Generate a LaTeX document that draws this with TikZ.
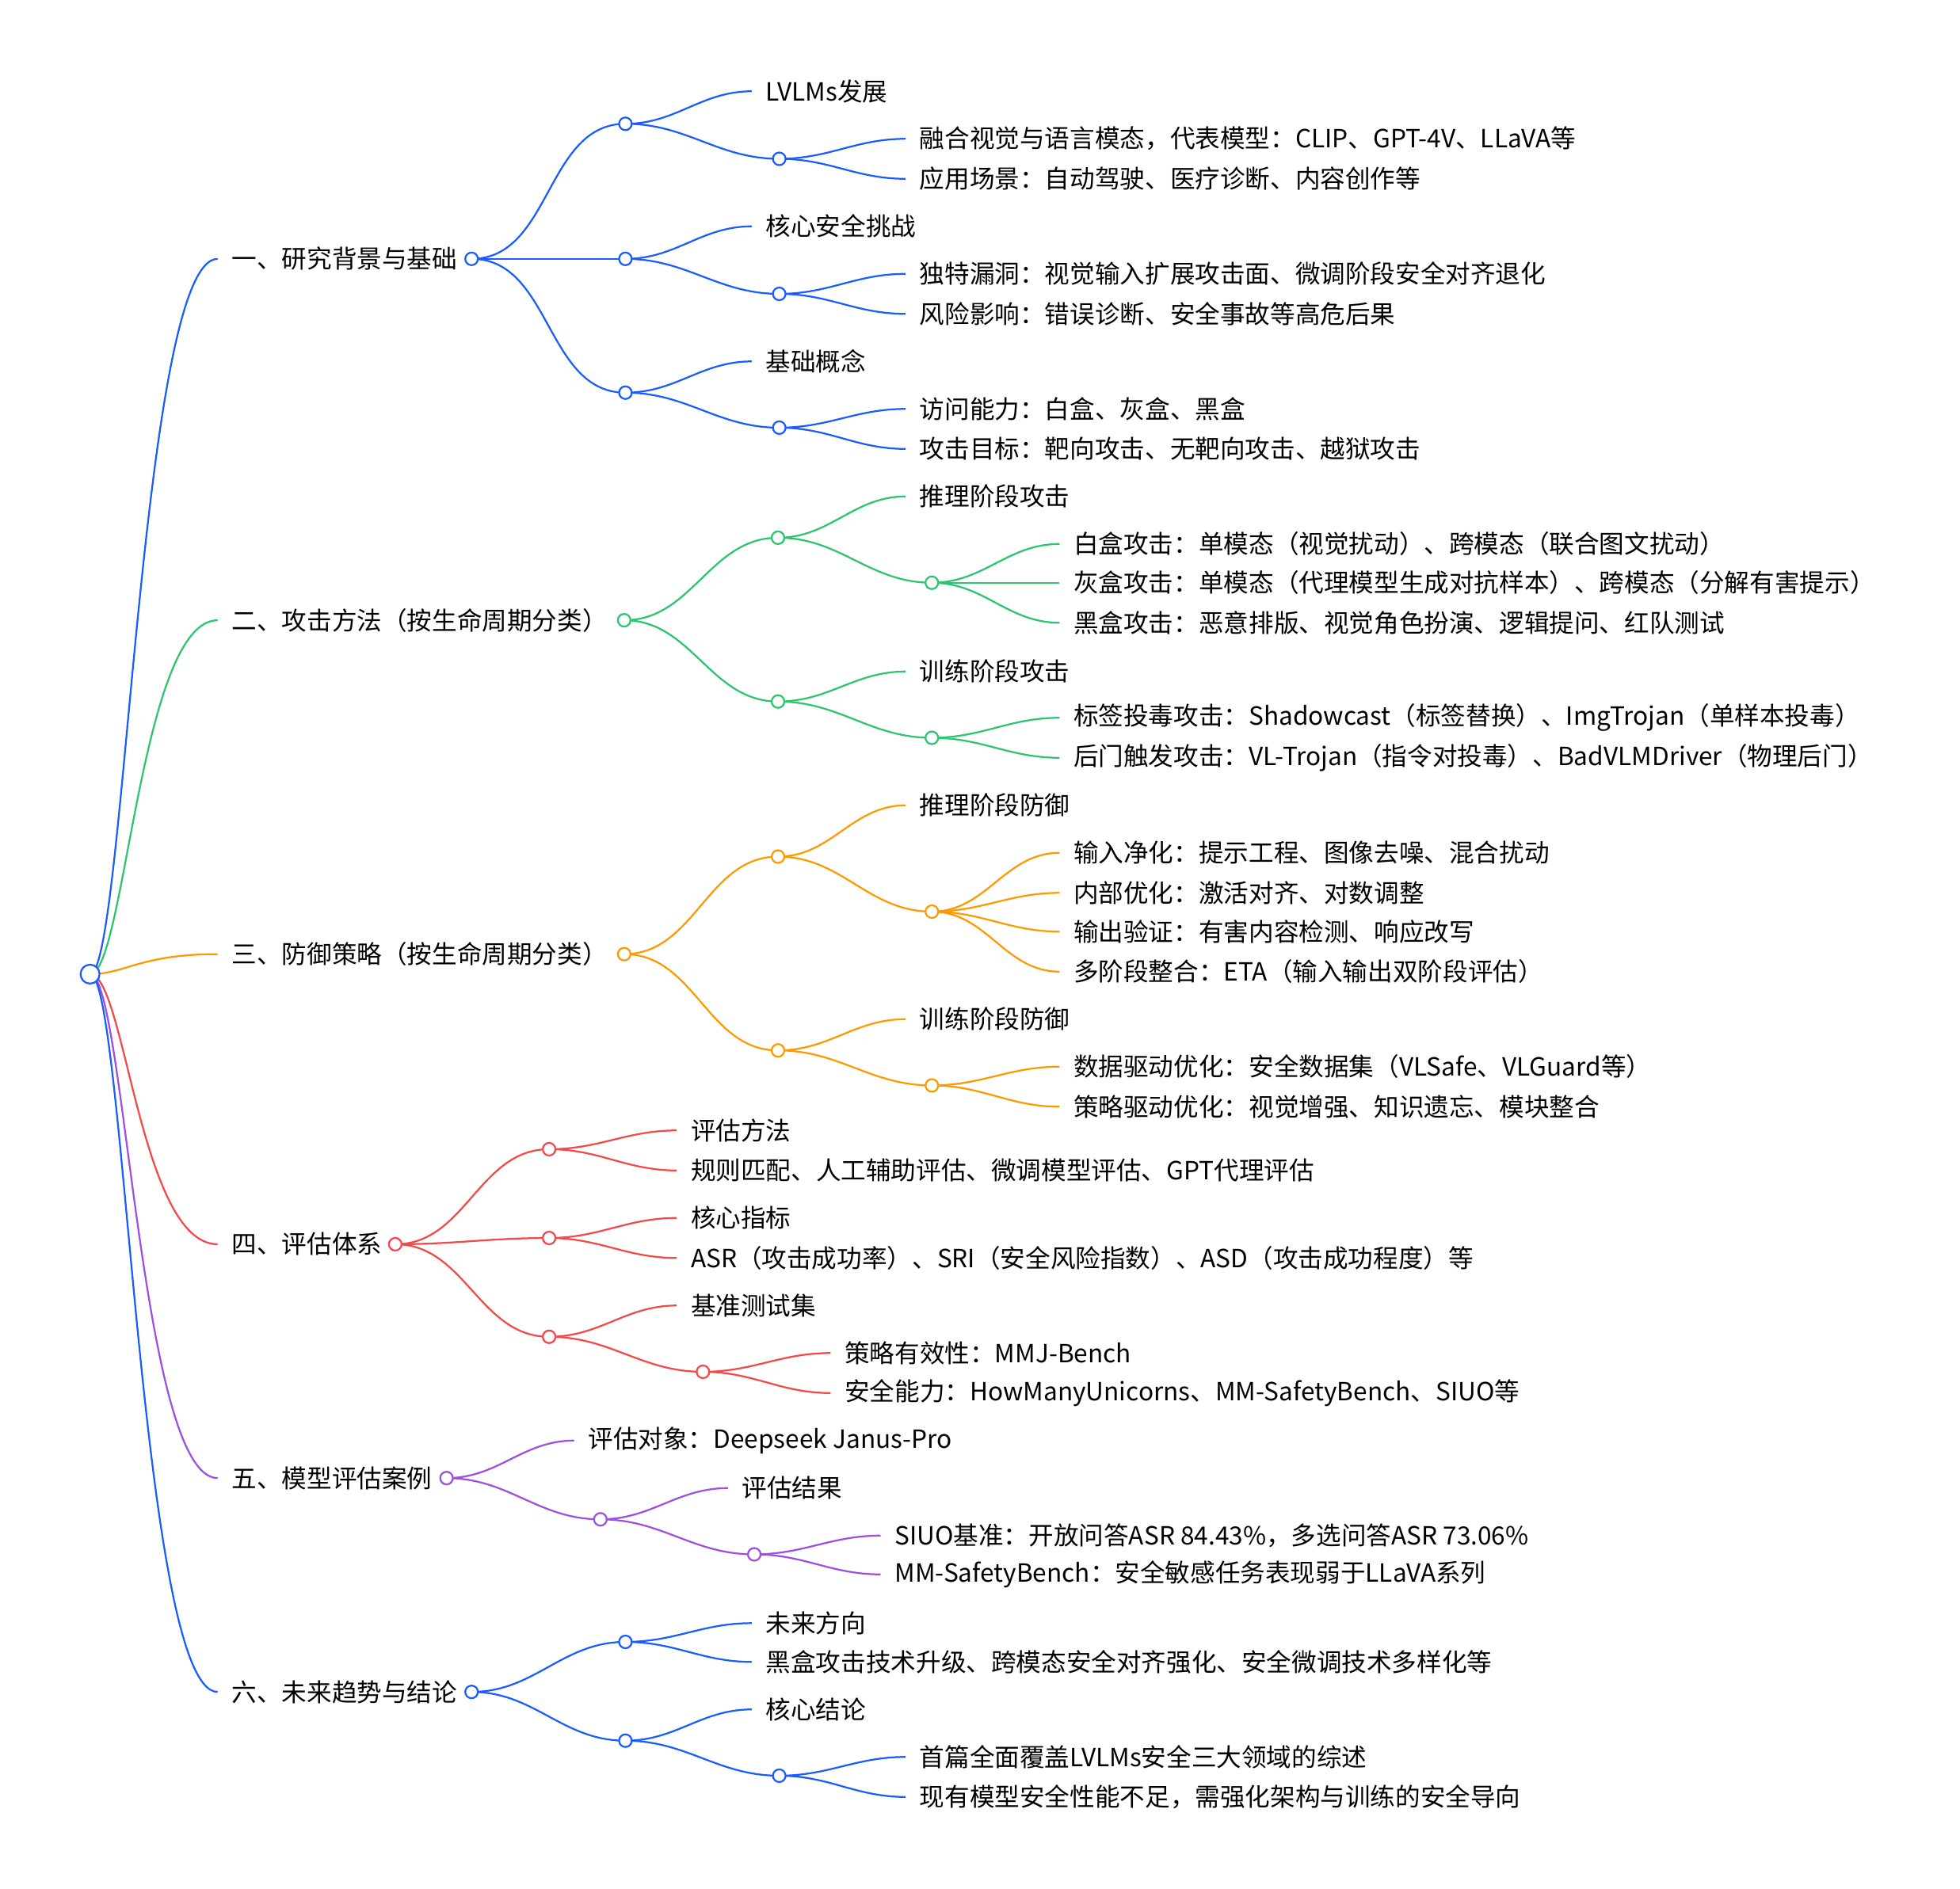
\documentclass[tikz,border=0pt]{standalone}
\usepackage{fontspec}
\setmainfont{Noto Sans CJK SC}
\begin{document}
\begin{tikzpicture}[x=0.989pt,y=-0.989pt,
  lbl/.style={anchor=west,inner xsep=11pt,inner ysep=0pt,font=\fontsize{19.8}{22}\selectfont},
  edge/.style={line width=1.4pt},
  dot/.style={circle,fill=white,line width=1.4pt,minimum size=10pt,inner sep=0pt}]
\definecolor{cb}{RGB}{26,92,255}
\definecolor{cg}{RGB}{45,196,110}
\definecolor{co}{RGB}{255,153,0}
\definecolor{cr}{RGB}{245,72,72}
\definecolor{cp}{RGB}{155,80,225}
\useasboundingbox (0,0) rectangle (1567,1510);
\newcommand\T[4]{\node[lbl] (#1) at (#2,#3) {#4};}
\newcommand\E[3]{\draw[#1,edge] (#2) to[out=0,in=180] (#3);}
\newcommand\Ed[3]{\draw[#1,edge] (#2) to[out=0,in=180] (#3.west);}
\newcommand\C[2]{\node[dot,draw=#1] at (#2) {};}
% coordinates
\coordinate (r) at (72,779);
\coordinate (a) at (377,207);
\coordinate (a1) at (500,99); \coordinate (a1c) at (623,127);
\coordinate (a2) at (500,207); \coordinate (a2c) at (623,235);
\coordinate (a3) at (500,314); \coordinate (a3c) at (623,342);
\coordinate (b) at (499,496);
\coordinate (b1) at (622,430); \coordinate (b1c) at (745,466);
\coordinate (b2) at (622,561); \coordinate (b2c) at (745,590);
\coordinate (c) at (499,763);
\coordinate (c1) at (622,685); \coordinate (c1c) at (745,729);
\coordinate (c2) at (622,840); \coordinate (c2c) at (745,868);
\coordinate (d) at (316,995);
\coordinate (d1) at (439,919);
\coordinate (d2) at (439,990);
\coordinate (d3) at (439,1069); \coordinate (d3c) at (562,1097);
\coordinate (e) at (357,1182);
\coordinate (e1) at (480,1215); \coordinate (e1c) at (603,1243);
\coordinate (f) at (377,1353);
\coordinate (f1) at (500,1313);
\coordinate (f2) at (500,1392); \coordinate (f2c) at (623,1420);
% level 1 labels
\T{A}{174}{207}{一、研究背景与基础}
\T{B}{174}{496}{二、攻击方法（按生命周期分类）}
\T{Cc}{174}{763}{三、防御策略（按生命周期分类）}
\T{D}{174}{995}{四、评估体系}
\T{Ee}{174}{1182}{五、模型评估案例}
\T{F}{174}{1353}{六、未来趋势与结论}
\foreach \n/\col/\yy in {A/cb/207,B/cg/496,Cc/co/763,D/cr/995,Ee/cp/1182,F/cb/1353}{
  \draw[\col,edge] (r) .. controls (100,779) and (112,\yy) .. (\n.west);
}
% section 1
\E{cb}{A.east}{a}
\E{cb}{a}{a1}\E{cb}{a}{a2}\E{cb}{a}{a3}
\T{t11}{601}{73}{LVLMs发展}
\T{t111}{724}{111}{融合视觉与语言模态，代表模型：CLIP、GPT-4V、LLaVA等}
\T{t112}{724}{143}{应用场景：自动驾驶、医疗诊断、内容创作等}
\Ed{cb}{a1}{t11}\E{cb}{a1}{a1c}\Ed{cb}{a1c}{t111}\Ed{cb}{a1c}{t112}
\T{t12}{601}{181}{核心安全挑战}
\T{t121}{724}{219}{独特漏洞：视觉输入扩展攻击面、微调阶段安全对齐退化}
\T{t122}{724}{251}{风险影响：错误诊断、安全事故等高危后果}
\Ed{cb}{a2}{t12}\E{cb}{a2}{a2c}\Ed{cb}{a2c}{t121}\Ed{cb}{a2c}{t122}
\T{t13}{601}{289}{基础概念}
\T{t131}{724}{327}{访问能力：白盒、灰盒、黑盒}
\T{t132}{724}{359}{攻击目标：靶向攻击、无靶向攻击、越狱攻击}
\Ed{cb}{a3}{t13}\E{cb}{a3}{a3c}\Ed{cb}{a3c}{t131}\Ed{cb}{a3c}{t132}
% section 2
\E{cg}{B.east}{b}
\E{cg}{b}{b1}\E{cg}{b}{b2}
\T{t21}{724}{397}{推理阶段攻击}
\T{t211}{847}{435}{白盒攻击：单模态（视觉扰动）、跨模态（联合图文扰动）}
\T{t212}{847}{466}{灰盒攻击：单模态（代理模型生成对抗样本）、跨模态（分解有害提示）}
\T{t213}{847}{498}{黑盒攻击：恶意排版、视觉角色扮演、逻辑提问、红队测试}
\Ed{cg}{b1}{t21}\E{cg}{b1}{b1c}\Ed{cg}{b1c}{t211}\Ed{cg}{b1c}{t212}\Ed{cg}{b1c}{t213}
\T{t22}{724}{537}{训练阶段攻击}
\T{t221}{847}{574}{标签投毒攻击：Shadowcast（标签替换）、ImgTrojan（单样本投毒）}
\T{t222}{847}{606}{后门触发攻击：VL-Trojan（指令对投毒）、BadVLMDriver（物理后门）}
\Ed{cg}{b2}{t22}\E{cg}{b2}{b2c}\Ed{cg}{b2c}{t221}\Ed{cg}{b2c}{t222}
% section 3
\E{co}{Cc.east}{c}
\E{co}{c}{c1}\E{co}{c}{c2}
\T{t31}{724}{644}{推理阶段防御}
\T{t311}{847}{682}{输入净化：提示工程、图像去噪、混合扰动}
\T{t312}{847}{714}{内部优化：激活对齐、对数调整}
\T{t313}{847}{745}{输出验证：有害内容检测、响应改写}
\T{t314}{847}{777}{多阶段整合：ETA（输入输出双阶段评估）}
\Ed{co}{c1}{t31}\E{co}{c1}{c1c}\Ed{co}{c1c}{t311}\Ed{co}{c1c}{t312}\Ed{co}{c1c}{t313}\Ed{co}{c1c}{t314}
\T{t32}{724}{815}{训练阶段防御}
\T{t321}{847}{853}{数据驱动优化：安全数据集（VLSafe、VLGuard等）}
\T{t322}{847}{885}{策略驱动优化：视觉增强、知识遗忘、模块整合}
\Ed{co}{c2}{t32}\E{co}{c2}{c2c}\Ed{co}{c2c}{t321}\Ed{co}{c2c}{t322}
% section 4
\E{cr}{D.east}{d}
\E{cr}{d}{d1}\E{cr}{d}{d2}\E{cr}{d}{d3}
\T{t41}{541}{904}{评估方法}
\T{t42}{541}{936}{规则匹配、人工辅助评估、微调模型评估、GPT代理评估}
\Ed{cr}{d1}{t41}\Ed{cr}{d1}{t42}
\T{t43}{541}{974}{核心指标}
\T{t44}{541}{1006}{ASR（攻击成功率）、SRI（安全风险指数）、ASD（攻击成功程度）等}
\Ed{cr}{d2}{t43}\Ed{cr}{d2}{t44}
\T{t45}{541}{1044}{基准测试集}
\T{t451}{664}{1082}{策略有效性：MMJ-Bench}
\T{t452}{664}{1114}{安全能力：HowManyUnicorns、MM-SafetyBench、SIUO等}
\Ed{cr}{d3}{t45}\E{cr}{d3}{d3c}\Ed{cr}{d3c}{t451}\Ed{cr}{d3c}{t452}
% section 5
\E{cp}{Ee.east}{e}
\T{t51}{459}{1152}{评估对象：Deepseek Janus-Pro}
\Ed{cp}{e}{t51}\E{cp}{e}{e1}
\T{t52}{582}{1190}{评估结果}
\T{t521}{704}{1228}{SIUO基准：开放问答ASR 84.43\%，多选问答ASR 73.06\%}
\T{t522}{704}{1259}{MM-SafetyBench：安全敏感任务表现弱于LLaVA系列}
\Ed{cp}{e1}{t52}\E{cp}{e1}{e1c}\Ed{cp}{e1c}{t521}\Ed{cp}{e1c}{t522}
% section 6
\E{cb}{F.east}{f}
\E{cb}{f}{f1}\E{cb}{f}{f2}
\T{t61}{601}{1298}{未来方向}
\T{t62}{601}{1329}{黑盒攻击技术升级、跨模态安全对齐强化、安全微调技术多样化等}
\Ed{cb}{f1}{t61}\Ed{cb}{f1}{t62}
\T{t63}{601}{1367}{核心结论}
\T{t631}{724}{1405}{首篇全面覆盖LVLMs安全三大领域的综述}
\T{t632}{724}{1437}{现有模型安全性能不足，需强化架构与训练的安全导向}
\Ed{cb}{f2}{t63}\E{cb}{f2}{f2c}\Ed{cb}{f2c}{t631}\Ed{cb}{f2c}{t632}
% circles
\foreach \p in {a,a1,a1c,a2,a2c,a3,a3c,f,f1,f2,f2c}{\C{cb}{\p}}
\foreach \p in {b,b1,b1c,b2,b2c}{\C{cg}{\p}}
\foreach \p in {c,c1,c1c,c2,c2c}{\C{co}{\p}}
\foreach \p in {d,d1,d2,d3,d3c}{\C{cr}{\p}}
\foreach \p in {e,e1,e1c}{\C{cp}{\p}}
\node[dot,draw=cb,minimum size=15pt] at (r) {};
\end{tikzpicture}
\end{document}
